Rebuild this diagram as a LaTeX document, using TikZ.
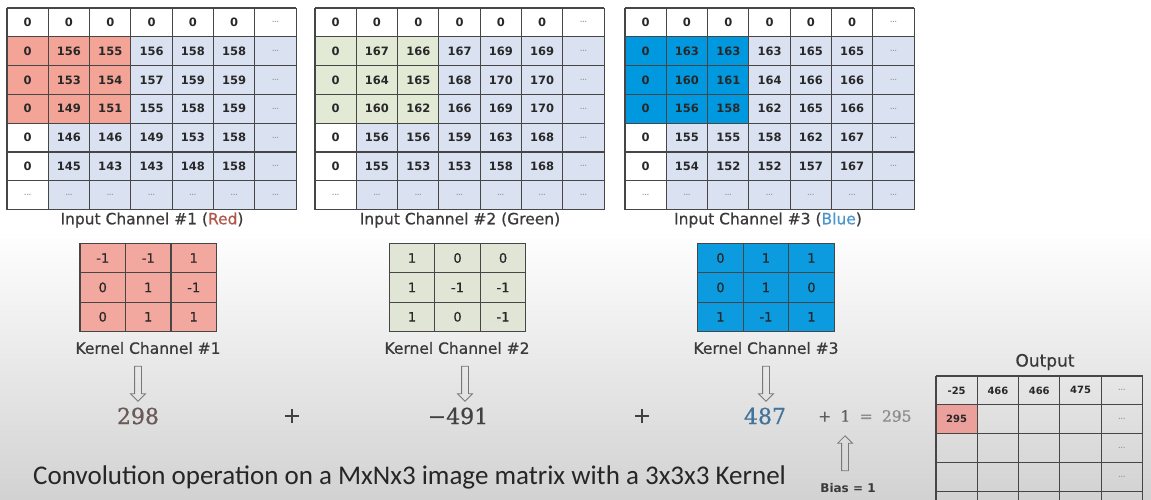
\documentclass[tikz,border=0pt]{standalone}
\usepackage{fontspec}
\setmainfont{DejaVu Sans}
\newfontfamily\labfont{DejaVu Sans}[UprightFeatures={FakeBold=0.6}]
\newfontfamily\capfont{Carlito}
\newfontfamily\eqfont{DejaVu Serif}[UprightFeatures={FakeBold=0.8}]
\usetikzlibrary{shapes.arrows,positioning}
\definecolor{labgray}{RGB}{58,58,58}
\definecolor{numgray}{RGB}{40,40,40}
\definecolor{linegray}{RGB}{70,70,70}
\definecolor{cellblue}{RGB}{218,226,242}
\definecolor{redhl}{RGB}{243,164,150}
\definecolor{greenhl}{RGB}{226,234,214}
\definecolor{bluehl}{RGB}{0,153,224}
\definecolor{kred}{RGB}{242,168,158}
\definecolor{kgreen}{RGB}{224,229,213}
\definecolor{kblue}{RGB}{12,155,222}
\definecolor{outred}{RGB}{235,160,156}
\definecolor{redtxt}{RGB}{180,85,75}
\definecolor{bluetxt}{RGB}{75,150,205}
\definecolor{resred}{RGB}{105,90,88}
\definecolor{resgreen}{RGB}{65,65,65}
\definecolor{resblue}{RGB}{65,115,155}
\definecolor{eqdark}{RGB}{95,95,95}
\definecolor{eqlight}{RGB}{140,140,140}
\definecolor{arrgray}{RGB}{120,120,120}
\definecolor{bggray}{RGB}{210,210,210}
\definecolor{dotgray}{RGB}{150,150,150}
\def\cw{41.3}
\def\rh{28.8}
\def\kw{45.5}
\def\kh{29.4}
\newcommand{\gd}{{\fontsize{6}{6}\selectfont\color{dotgray}...}}
% 7x7 input channel: name, left x, highlight colour, rows
\newcommand{\inputgrid}[4]{%
  \fill[cellblue] ({#2+\cw},{8+\rh}) rectangle ({#2+7*\cw},{8+7*\rh});
  \fill[#3] (#2,{8+\rh}) rectangle ({#2+3*\cw},{8+4*\rh});
  \foreach \row [count=\ri] in {#4}
    \foreach \val [count=\ci] in \row
      \node[num] (#1-\ri-\ci) at ({#2+(\ci-0.5)*\cw},{8+(\ri-0.5)*\rh}) {\val};
  \foreach \i in {0,...,7}{
    \draw[gridline] ({#2+\i*\cw},8) -- ++(0,{7*\rh});
    \draw[gridline] (#2,{8+\i*\rh}) -- ++({7*\cw},0);
  }
}
% 3x3 kernel: name, left x, fill colour, rows
\newcommand{\kernelgrid}[4]{%
  \fill[#3] (#2,243.3) rectangle ++({3*\kw},{3*\kh});
  \foreach \row [count=\ri] in {#4}
    \foreach \val [count=\ci] in \row
      \node[kern] (#1-\ri-\ci) at ({#2+(\ci-0.5)*\kw},{243.3+(\ri-0.5)*\kh}) {\val};
  \foreach \i in {0,...,3}{
    \draw[gridline] ({#2+\i*\kw},243.3) -- ++(0,{3*\kh});
    \draw[gridline] (#2,{243.3+\i*\kh}) -- ++({3*\kw},0);
  }
}
\begin{document}
\begin{tikzpicture}[x=1pt,y=-1pt,
    num/.style={font=\bfseries\fontsize{11.5}{11.5}\selectfont,text=numgray,inner sep=0pt},
    kern/.style={font=\labfont\fontsize{13}{13}\selectfont,text=numgray,inner sep=0pt},
    gridline/.style={draw=linegray,line width=1.1pt},
    lab/.style={font=\labfont\fontsize{15.5}{15.5}\selectfont,text=labgray,inner sep=0pt},
    blockarrow/.style={single arrow,draw=arrgray,line width=0.8pt,inner sep=3pt,
      minimum height=35pt,single arrow head extend=4pt,single arrow head indent=0pt},
    res/.style={font=\eqfont\fontsize{22}{22}\selectfont,inner sep=0pt}]
  \useasboundingbox (0,0) rectangle (1151,499);
  \clip (0,0) rectangle (1151,499);
  \fill[white] (0,0) rectangle (1151,230);
  \shade[top color=white,bottom color=bggray] (0,230) rectangle (1151,499);

  \inputgrid{red}{7}{redhl}{{0,0,0,0,0,0,\gd},{0,156,155,156,158,158,\gd},
    {0,153,154,157,159,159,\gd},{0,149,151,155,158,159,\gd},
    {0,146,146,149,153,158,\gd},{0,145,143,143,148,158,\gd},
    {\gd,\gd,\gd,\gd,\gd,\gd,\gd}}
  \inputgrid{green}{315}{greenhl}{{0,0,0,0,0,0,\gd},{0,167,166,167,169,169,\gd},
    {0,164,165,168,170,170,\gd},{0,160,162,166,169,170,\gd},
    {0,156,156,159,163,168,\gd},{0,155,153,153,158,168,\gd},
    {\gd,\gd,\gd,\gd,\gd,\gd,\gd}}
  \inputgrid{blue}{625}{bluehl}{{0,0,0,0,0,0,\gd},{0,163,163,163,165,165,\gd},
    {0,160,161,164,166,166,\gd},{0,156,158,162,165,166,\gd},
    {0,155,155,158,162,167,\gd},{0,154,152,152,157,167,\gd},
    {\gd,\gd,\gd,\gd,\gd,\gd,\gd}}

  \node[lab] (inlab1) at (152,220) {Input Channel \#1 ({\color{redtxt}Red})};
  \node[lab] (inlab2) at (460,220) {Input Channel \#2 (Green)};
  \node[lab] (inlab3) at (768,220) {Input Channel \#3 ({\color{bluetxt}Blue})};

  \kernelgrid{kr}{80}{kred}{{-1,-1,1},{0,1,-1},{0,1,1}}
  \kernelgrid{kg}{389.3}{kgreen}{{1,0,0},{1,-1,-1},{1,0,-1}}
  \kernelgrid{kb}{697.7}{kblue}{{0,1,1},{0,1,0},{1,-1,1}}

  \node[lab] (klab1) at (148,348) {Kernel Channel \#1};
  \node[lab] (klab2) at (457,348) {Kernel Channel \#2};
  \node[lab] (klab3) at (766,348) {Kernel Channel \#3};

  \node[blockarrow,shape border rotate=270] (arr1) at (138,382) {};
  \node[blockarrow,shape border rotate=270] (arr2) at (465,382) {};
  \node[blockarrow,shape border rotate=270] (arr3) at (766,382) {};

  \node[res,text=resred] (sum1) at (138,416) {298};
  \node[res,text=resgreen] (plus1) at (292,416) {+};
  \node[res,text=resgreen] (sum2) at (458,416) {−491};
  \node[res,text=resgreen] (plus2) at (642,416) {+};
  \node[res,text=resblue] (sum3) at (765,416) {487};
  \node[font=\eqfont\fontsize{15.5}{15.5}\selectfont,inner sep=0pt,anchor=west] (bias-eq) at (818,416)
    {{\color{eqdark}+\hspace{0.6em}1\hspace{0.6em}}{\color{eqlight}=\hspace{0.6em}295}};

  \node[blockarrow,shape border rotate=90] (arrb) at (845,455) {};
  \node[font=\bfseries\fontsize{12}{12}\selectfont,text=labgray,inner sep=0pt] (bias) at (848,488) {Bias = 1};

  \node[anchor=west,font=\capfont\fontsize{27}{27}\selectfont,text=black!85,inner sep=0pt] (caption) at (33,477)
    {Convolution operation on a MxNx3 image matrix with a 3x3x3 Kernel};

  % output map
  \node[font=\labfont\fontsize{17}{17}\selectfont,text=labgray,inner sep=0pt] (outlab) at (1045,362) {Output};
  \fill[outred] (936,{376+\rh}) rectangle ++(\cw,\rh);
  \foreach \row [count=\ri] in {{-25,466,466,475,\gd},{295,{},{},{},\gd},
      {{},{},{},{},\gd},{{},{},{},{},\gd}}
    \foreach \val [count=\ci] in \row
      \node[num,font=\bfseries\fontsize{10}{10}\selectfont] (out-\ri-\ci) at ({936+(\ci-0.5)*\cw},{376+(\ri-0.5)*\rh}) {\val};
  \foreach \i in {0,...,5}{
    \draw[gridline] ({936+\i*\cw},376) -- ++(0,{5*\rh});
    \draw[gridline] (936,{376+\i*\rh}) -- ++({5*\cw},0);
  }
\end{tikzpicture}
\end{document}
